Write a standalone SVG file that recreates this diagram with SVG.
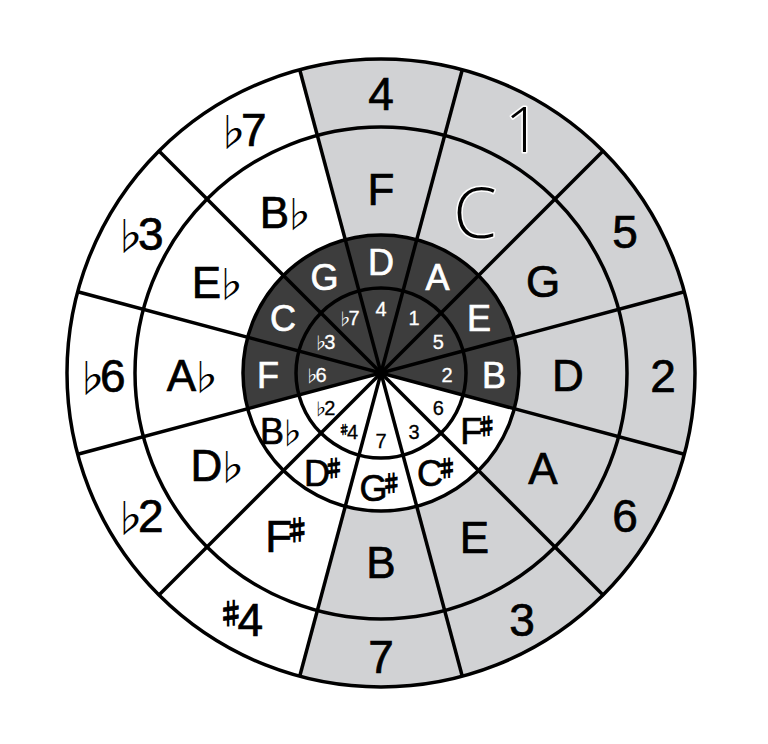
<svg xmlns="http://www.w3.org/2000/svg" width="768" height="744" viewBox="0 0 768 744">
<style>
text{font-family:"Liberation Sans",Arial,sans-serif;text-anchor:middle;fill:#000;stroke:#000;stroke-width:0.7px}
.o{font-size:46px}
.m{font-size:44px}
.d{font-size:36px}
.i{font-size:20px;stroke-width:0.3px}
.w{fill:#fff;stroke:#fff}
.hl{font-family:"Open Sans","Liberation Sans",sans-serif;font-weight:300;fill:#000;stroke:#fff;stroke-width:3px;paint-order:stroke fill;stroke-linejoin:round}
.fl{font-family:"Noto Sans CJK JP","Noto Sans CJK SC",sans-serif;font-size:82%;stroke-width:0}
.sh{font-family:"Noto Sans CJK JP","Noto Sans CJK SC",sans-serif;font-weight:700;font-size:62%;stroke-width:1.1px}
.i .sh{stroke-width:0.5px}
.pre{letter-spacing:-0.27em}
.k{letter-spacing:-0.2em}
.ln{stroke:#000;stroke-width:3.5;fill:none}
</style>
<rect width="768" height="744" fill="#fff"/>
<g id="fills">
<circle cx="381" cy="373" r="314" fill="#fff"/>
<path d="M299.73,69.70 A314,314 0 1 1 299.73,676.30 L345.28,506.30 A138,138 0 1 0 345.28,239.70 Z" fill="#d1d2d4"/>
<path d="M381,373 L247.70,408.72 A138,138 0 1 1 514.30,408.72 Z" fill="#3d3d3d"/>
</g>
<g id="spokes" class="ln">
<line x1="462.27" y1="69.70" x2="299.73" y2="676.30"/>
<line x1="603.03" y1="150.97" x2="158.97" y2="595.03"/>
<line x1="684.30" y1="291.73" x2="77.70" y2="454.27"/>
<line x1="684.30" y1="454.27" x2="77.70" y2="291.73"/>
<line x1="603.03" y1="595.03" x2="158.97" y2="150.97"/>
<line x1="462.27" y1="676.30" x2="299.73" y2="69.70"/>
</g>
<g id="rings" class="ln">
<circle cx="381" cy="373" r="314"/>
<circle cx="381" cy="373" r="246"/>
<circle cx="381" cy="373" r="138"/>
<circle cx="381" cy="373" r="85"/>
</g>
<g id="outer-ring">
<text class="o" x="381" y="109.5">4</text>
<text class="hl" x="523" y="151.5" font-size="63">1</text>
<text class="o" x="625" y="248">5</text>
<text class="o" x="663" y="391.5">2</text>
<text class="o" x="625" y="532">6</text>
<text class="o" x="522" y="635.5">3</text>
<text class="o" x="381" y="673">7</text>
<text class="o" x="240" y="635.5"><tspan class="sh pre" dy="-12">♯</tspan><tspan dy="12">4</tspan></text>
<text class="o" x="137" y="532"><tspan class="fl pre">♭</tspan>2</text>
<text class="o" x="99" y="391.5"><tspan class="fl pre">♭</tspan>6</text>
<text class="o" x="137" y="250"><tspan class="fl pre">♭</tspan>3</text>
<text class="o" x="240" y="146"><tspan class="fl pre">♭</tspan>7</text>
</g>
<g id="middle-ring">
<text class="m" x="381" y="204.5">F</text>
<text class="hl" x="475" y="238" font-size="70">C</text>
<text class="m" x="543" y="297">G</text>
<text class="m" x="568" y="391">D</text>
<text class="m" x="543" y="484">A</text>
<text class="m" x="474.5" y="552.5">E</text>
<text class="m" x="381" y="578">B</text>
<text class="m" x="288" y="552"><tspan class="k">F</tspan><tspan class="sh" dy="-12">♯</tspan></text>
<text class="m" x="220" y="481"><tspan class="k">D</tspan><tspan class="fl">♭</tspan></text>
<text class="m" x="195" y="391"><tspan class="k">A</tspan><tspan class="fl">♭</tspan></text>
<text class="m" x="220" y="298"><tspan class="k">E</tspan><tspan class="fl">♭</tspan></text>
<text class="m" x="288" y="228"><tspan class="k">B</tspan><tspan class="fl">♭</tspan></text>
</g>
<g id="dark-ring">
<text class="d w" x="381" y="275">D</text>
<text class="d w" x="437.5" y="290">A</text>
<text class="d w" x="478.9" y="331.4">E</text>
<text class="d w" x="494" y="388">B</text>
<text class="d" x="478.9" y="444.4"><tspan class="k">F</tspan><tspan class="sh" dy="-10">♯</tspan></text>
<text class="d" x="437.5" y="485.8"><tspan class="k">C</tspan><tspan class="sh" dy="-10">♯</tspan></text>
<text class="d" x="381" y="501"><tspan class="k">G</tspan><tspan class="sh" dy="-10">♯</tspan></text>
<text class="d" x="324.5" y="485.8"><tspan class="k">D</tspan><tspan class="sh" dy="-10">♯</tspan></text>
<text class="d" x="283.1" y="444.4"><tspan class="k">B</tspan><tspan class="fl">♭</tspan></text>
<text class="d w" x="268" y="388">F</text>
<text class="d w" x="283.1" y="331.4">C</text>
<text class="d w" x="324.5" y="290">G</text>
</g>
<g id="inner-ring">
<text class="i w" x="381" y="316.2">4</text>
<text class="i w" x="414" y="325">1</text>
<text class="i w" x="438.2" y="349.2">5</text>
<text class="i w" x="447" y="382.2">2</text>
<text class="i" x="438.2" y="415.2">6</text>
<text class="i" x="414" y="439.4">3</text>
<text class="i" x="381" y="448.2">7</text>
<text class="i" x="348" y="439.4"><tspan class="sh pre" dy="-5">♯</tspan><tspan dy="5">4</tspan></text>
<text class="i" x="323.8" y="415.2"><tspan class="fl pre">♭</tspan>2</text>
<text class="i w" x="315" y="382.2"><tspan class="fl pre">♭</tspan>6</text>
<text class="i w" x="323.8" y="349.2"><tspan class="fl pre">♭</tspan>3</text>
<text class="i w" x="348" y="325"><tspan class="fl pre">♭</tspan>7</text>
</g>
</svg>
